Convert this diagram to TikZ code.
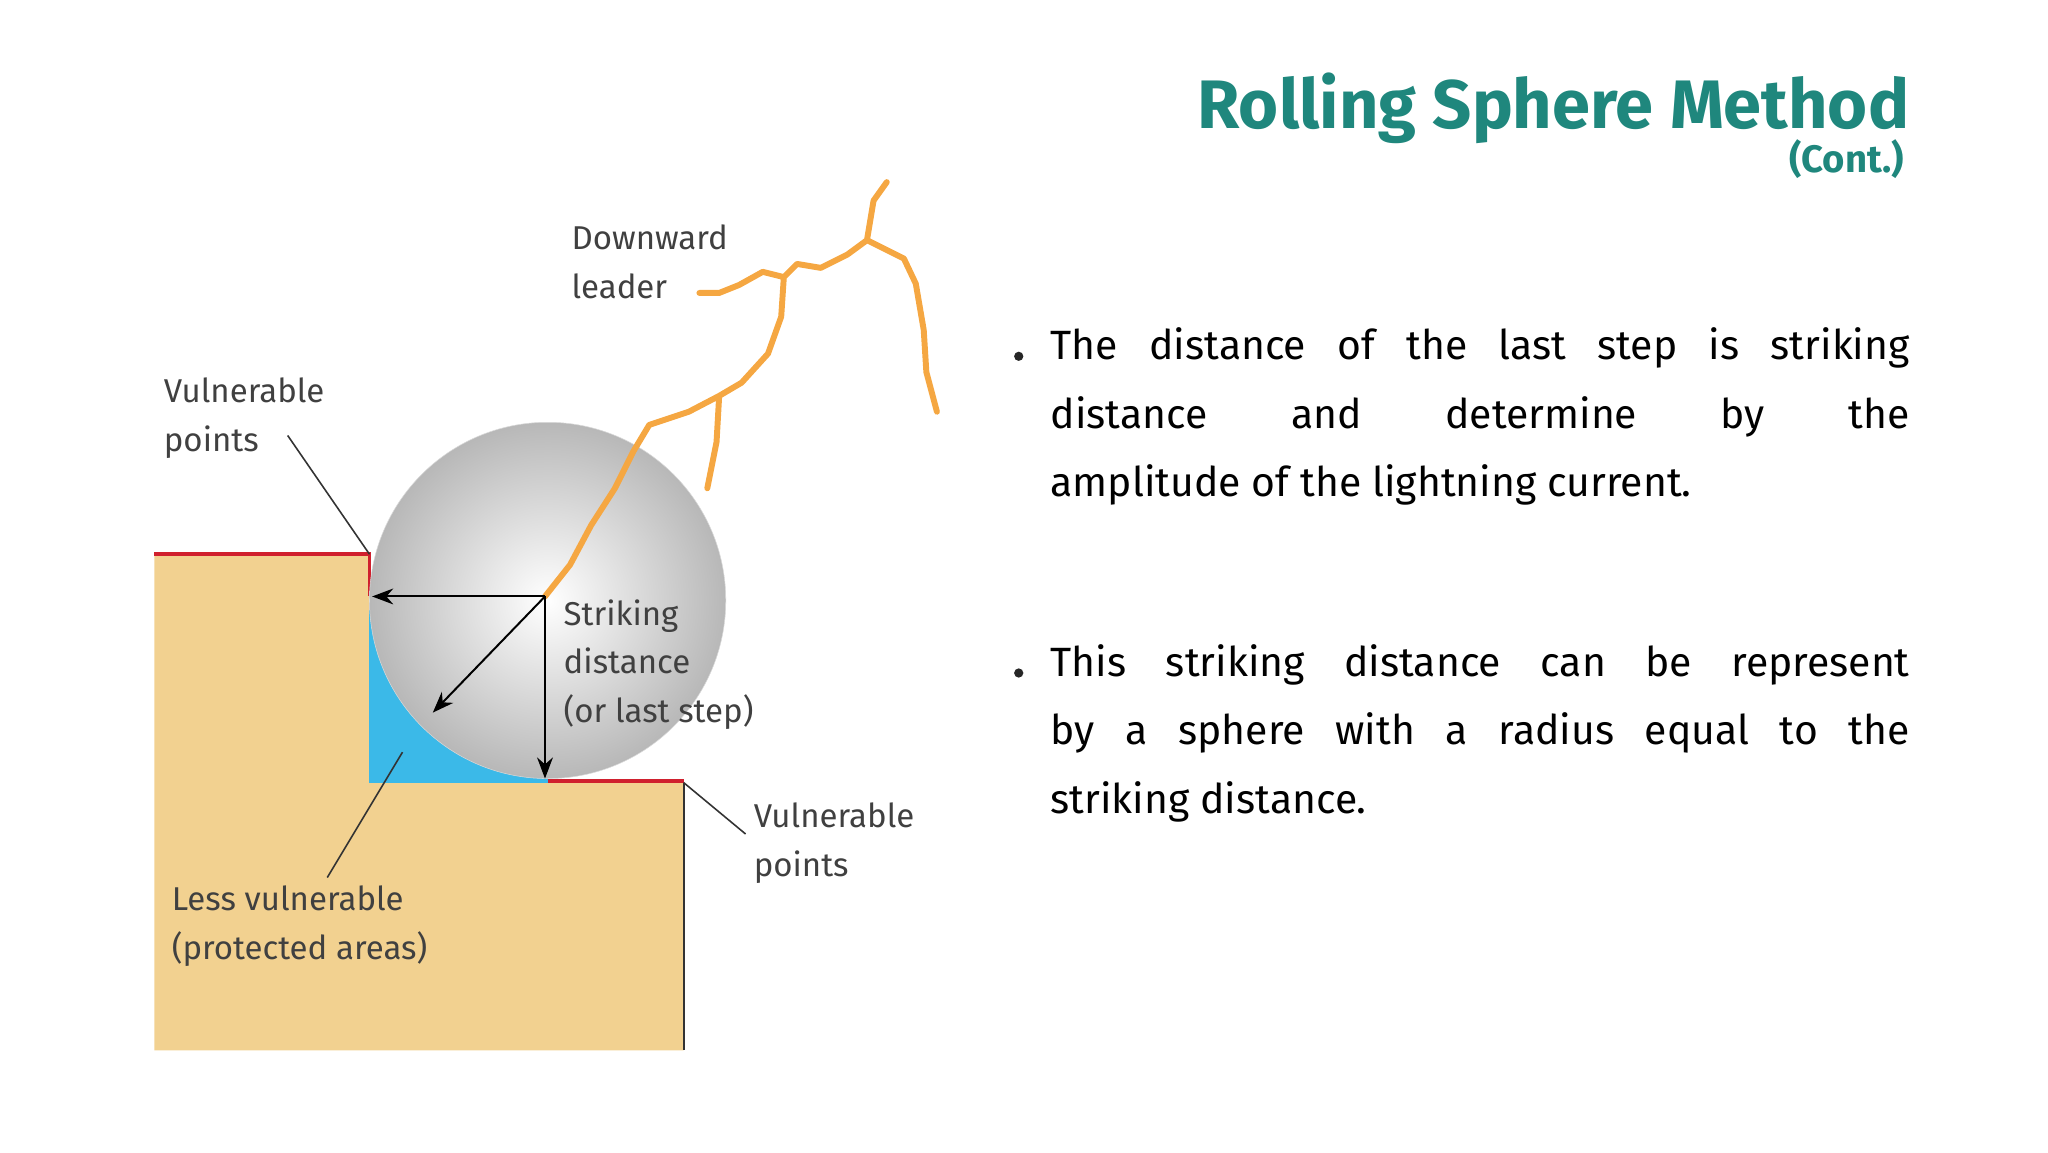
\documentclass[tikz,border=0pt]{standalone}
\usepackage{fontspec}
\setmainfont{Fira Sans}
\newfontfamily\dotfont{DejaVu Sans}
\usetikzlibrary{positioning,arrows.meta}
\definecolor{teal}{HTML}{1F877D}
\definecolor{tan}{HTML}{F2D190}
\definecolor{wallred}{HTML}{D0202E}
\definecolor{protblue}{HTML}{3BB9E8}
\definecolor{bolt}{HTML}{F5A742}
\hyphenpenalty=10000
\exhyphenpenalty=10000
\tikzset{
  lbl/.style={anchor=north west,align=left,inner sep=0pt,font=\fontsize{25}{37}\selectfont,text=black!75},
  ptr/.style={black!80,line width=1.2pt},
  rad/.style={black,line width=1.5pt,-{Stealth[length=16pt,width=12pt]}},
  bullet/.style={anchor=north west,inner sep=0pt,text width=651pt,align=justify,
    font=\fontsize{31}{52}\selectfont},
  dot/.style={circle,fill=black!85,inner sep=0pt,minimum size=7pt}
}
\begin{document}
\begin{tikzpicture}[x=1pt,y=-1pt]
\useasboundingbox (0,0) rectangle (1552,873);

% building
\fill[tan] (117,420) -- (280,420) -- (280,593) -- (518,593) -- (518,796) -- (117,796) -- cycle;
\draw[black!80,line width=1.5pt] (518,593) -- (518,796);
\fill[protblue] (280,455) rectangle (415,593);
\draw[wallred,line width=3pt] (117,420) -- (280,420) -- (280,452);
\draw[wallred,line width=3pt] (415,592) -- (518,592);

% sphere
\coordinate (C) at (415,455);
\shade[inner color=white,outer color=black!28,draw=black!15] (C) circle[radius=135];

% lightning
\draw[bolt,line width=4.5pt,line join=round,line cap=round]
  (672,138) -- (662,152) -- (657,182) -- (642,193) -- (622,203) -- (604,200) -- (594,210)
  -- (578,206) -- (560,216) -- (545,222) -- (530,222)
  (594,210) -- (592,240) -- (582,268) -- (562,290) -- (545,300) -- (522,312) -- (492,322)
  -- (480,342) -- (466,370) -- (448,398) -- (432,428) -- (413,452)
  (657,182) -- (685,196) -- (694,215) -- (700,250) -- (702,282) -- (710,312)
  (545,300) -- (543,335) -- (536,370);

% radii
\draw[rad] (413,452) -- (282,452);
\draw[rad] (413,452) -- (413,590);
\draw[rad] (413,452) -- (328,540);

% labels
\node[lbl] (leader) at (433,170) {Downward\\leader};
\node[lbl] (vtop) at (124,286) {Vulnerable\\points};
\node[lbl] (strike) at (427,454) {Striking\\distance\\(or last step)};
\node[lbl] (vbot) at (571,608) {Vulnerable\\points};
\node[lbl] (less) at (130,671) {Less vulnerable\\(protected areas)};
\coordinate (ctop) at (280,420);
\coordinate (cbot) at (518,593);
\coordinate (cblue) at (305,570);
\draw[ptr] (218,330) -- (ctop);
\draw[ptr] (cbot) -- (565,632);
\draw[ptr] (248,665) -- (cblue);

% title
\node[anchor=base east,inner sep=0pt,text=teal,font=\fontsize{52}{56}\selectfont\bfseries] (title) at (1447,97) {Rolling Sphere Method};
\node[anchor=base east,inner sep=0pt,text=teal,font=\fontsize{29}{32}\selectfont\bfseries] (cont) at (1443,131) {(Cont.)};

% bullets
\node[bullet] (b1) at (796,248) {The distance of the last step is striking\linebreak distance and determine by the\linebreak amplitude of the lightning current.};
\node[bullet] (b2) at (796,488) {This striking distance can be represent\linebreak by a sphere with a radius equal to the\linebreak striking distance.};
\node[dot] (d1) at (772,270) {};
\node[dot] (d2) at (772,510) {};
\end{tikzpicture}
\end{document}
